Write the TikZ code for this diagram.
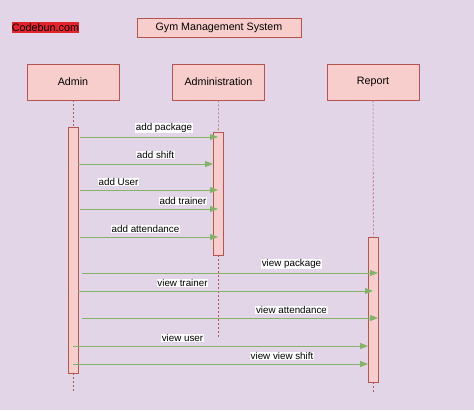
\documentclass[tikz,border=0pt]{standalone}
\usepackage{fontspec}
\setmainfont{Liberation Sans}
\usetikzlibrary{arrows.meta}

\definecolor{bgpurple}{HTML}{E1D5E7}
\definecolor{boxfill}{HTML}{F8CECC}
\definecolor{boxline}{HTML}{B85450}
\definecolor{msggreen}{HTML}{82B366}
\definecolor{brandred}{HTML}{E3242B}

\begin{document}
\begin{tikzpicture}[x=1pt,y=-1pt,
  actor/.style={draw=boxline,fill=boxfill,line width=0.8pt,minimum width=92pt,minimum height=36pt,inner sep=0pt,font=\fontsize{10.7}{12}\selectfont},
  bar/.style={draw=boxline,fill=boxfill,line width=0.8pt,minimum width=10pt,inner sep=0pt},
  life/.style={draw=boxline,line width=0.6pt,dash pattern=on 2pt off 2pt},
  msg/.style={draw=msggreen,line width=0.8pt,-{Triangle[length=8pt,width=6pt,fill=msggreen]}},
  lbl/.style={fill=white,inner sep=0.6pt,font=\fontsize{9.8}{11}\selectfont}]
  \useasboundingbox[fill=bgpurple] (0,0) rectangle (474,410);
  % titel
  \node[fill=brandred,inner sep=0pt,minimum width=67pt,minimum height=11pt,font=\fontsize{10.8}{12}\selectfont] (brand) at (45.5,27.5) {Codebun.com};
  \node[actor,minimum width=164pt,minimum height=19pt] (title) at (219,27.5) {Gym Management System};
  % actors
  \node[actor] (admin) at (73,82) {Admin};
  \node[actor] (adm) at (218.5,82) {Administration};
  \node[actor] (report) at (373,82) {Report};
  % activation bars
  \node[bar,minimum height=246pt] (barA) at (73,250) {};
  \node[bar,minimum height=123pt] (barB) at (218,193.5) {};
  \node[bar,minimum height=145pt] (barR) at (373.5,309.5) {};
  \coordinate (endA) at (73,392);
  \coordinate (endB) at (218,337);
  \coordinate (endR) at (373.5,392);
  \draw[life] (admin) -- (barA);
  \draw[life] (barA) -- (endA);
  \draw[life] (adm) -- (barB);
  \draw[life] (barB) -- (endB);
  \draw[life] (report) -- (barR);
  \draw[life] (barR) -- (endR);
  % messages: y / start / end / label x / label y / text
  \foreach \i/\y/\xa/\xb/\lx/\ly/\txt in {
      1/137/80/218/164/128/add package,
      2/164/78/213/155.5/155/add shift,
      3/190/80/218/118.5/182/add User,
      4/209/80/218/183/201/add trainer,
      5/237/80/218/145.5/229/add attendance,
      6/273/82/378/291.5/264/view package,
      7/291/78/373/182.5/283/view trainer,
      8/318/82/378/291.5/310/view attendance,
      9/346/73/368/182.5/338/view user,
      10/364/73/368/282/356/view view shift}{
    \coordinate (m\i s) at (\xa,\y);
    \coordinate (m\i e) at (\xb,\y);
    \draw[msg] (m\i s) -- (m\i e);
    \node[lbl] (l\i) at (\lx,\ly) {\txt};
  }
\end{tikzpicture}
\end{document}
